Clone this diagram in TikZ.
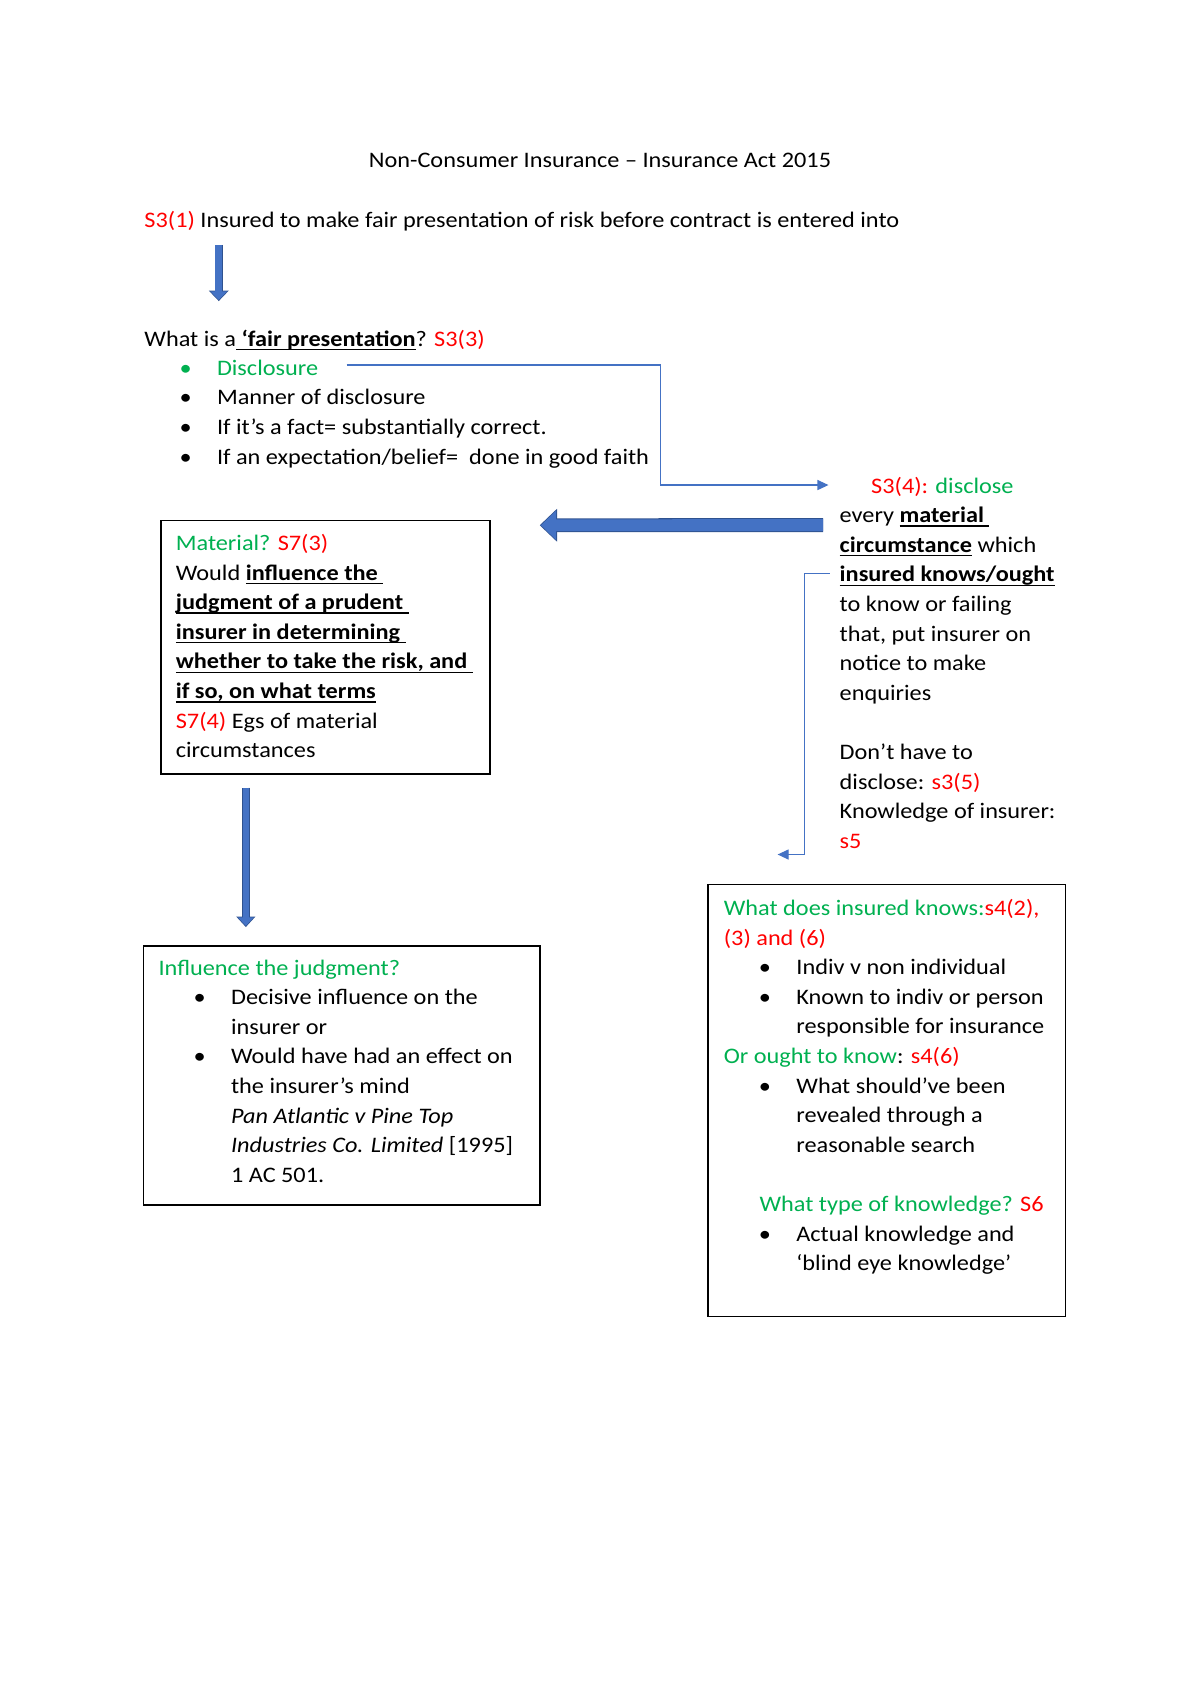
\documentclass[tikz,border=0pt]{standalone}
\usepackage{fontspec}
\setmainfont{Carlito}[FakeStretch=1.095]
\usetikzlibrary{positioning,arrows.meta}
\definecolor{sred}{RGB}{255,0,0}
\definecolor{sgreen}{RGB}{0,176,80}
\definecolor{linkblue}{RGB}{68,114,196}
\definecolor{arrowedge}{RGB}{47,82,143}
\newcommand\rd[1]{\textcolor{sred}{#1}}
\newcommand\gr[1]{\textcolor{sgreen}{#1}}
\newsavebox\ulbox
\newcommand\ulbf[1]{\sbox\ulbox{\textbf{#1}}\rlap{\rule[-2pt]{\wd\ulbox}{0.7pt}}\usebox\ulbox}
\newcommand\bul{\hspace*{36pt}\llap{\makebox[31.2pt]{\textbullet}}}
\newcommand\ind{\hspace*{36pt}}
\begin{document}
\begin{tikzpicture}[
  x=0.5373pt, y=-0.5373pt,
  txt/.style={inner sep=0pt, anchor=north west, align=left, font=\fontsize{11}{14.68}\selectfont},
  box/.style={draw, line width=0.75pt, inner sep=0pt, anchor=north west},
  link/.style={draw=linkblue, line width=0.6pt, -{Triangle[length=5.5pt,width=5pt]}},
  fat/.style n args={6}{draw=linkblue, line width=#1, -{Triangle[length=#2,width=#3]}, shorten >=0.6pt,
    preaction={draw=arrowedge, line width=#4, shorten >=0pt, -{Triangle[length=#5,width=#6]}}}
]
\useasboundingbox (0,0) rectangle (1108,1566);

\node[anchor=base, font=\fontsize{11}{14.68}\selectfont] (title) at (554,155) {Non-Consumer Insurance – Insurance Act 2015};
\node[txt] (s31) at (133,191) {\strut\rd{S3(1)} Insured to make fair presentation of risk before contract is entered into};

% fair presentation
\node[txt] (fairq) at (133,300) {\strut What is a\ulbf{ ‘fair presentation}? \rd{S3(3)}};
\node[txt] (disc) at (133,327) {\strut\gr{\bul Disclosure}};
\node[txt] (fairlist) at (133,354.3) {\strut\bul Manner of disclosure\\
  \bul If it’s a fact= substantially correct.\\
  \bul If an expectation/belief= \ done in good faith};

% duty of disclosure
\node[txt] (s34) at (775,435.85) {\strut\hspace*{15.6pt}\rd{S3(4):} \gr{disclose}\\
  every \ulbf{material }\\
  \ulbf{circumstance} which\\
  \ulbf{insured knows/ought}\\
  to know or failing\\
  that, put insurer on\\
  notice to make\\
  enquiries\\[14.68pt]
  Don’t have to\\
  disclose: \rd{s3(5)}\\
  Knowledge of insurer:\\
  \rd{s5}};

% boxes
\node[box, minimum width=163.3pt, minimum height=125.7pt] (material) at (148,480) {};
\node[txt] (materialtext) at (162,488.85) {\strut\gr{Material?} \rd{S7(3)}\\
  Would \ulbf{influence the }\\
  \ulbf{judgment of a prudent }\\
  \ulbf{insurer in determining }\\
  \ulbf{whether to take the risk, and }\\
  \ulbf{if so, on what terms}\\
  \rd{S7(4)} Egs of material\\
  circumstances};

\node[box, minimum width=196.7pt, minimum height=128.4pt] (influence) at (132,873) {};
\node[txt] (influencetext) at (146,880.85) {\strut\gr{Influence the judgment?}\\
  \bul Decisive influence on the\\
  \ind insurer or\\
  \bul Would have had an effect on\\
  \ind the insurer’s mind\\
  \ind\textit{Pan Atlantic v Pine Top}\\
  \ind\textit{Industries Co. Limited} [1995]\\
  \ind 1 AC 501.};

\node[box, minimum width=177.3pt, minimum height=214.4pt] (knows) at (653,816) {};
\node[txt] (knowstext) at (668,825.85) {\strut\gr{What does insured knows:}\rd{s4(2),}\\
  \rd{(3) and (6)}\\
  \bul Indiv v non individual\\
  \bul Known to indiv or person\\
  \ind responsible for insurance\\
  \gr{Or ought to know}: \rd{s4(6)}\\
  \bul What should’ve been\\
  \ind revealed through a\\
  \ind reasonable search\\[14.68pt]
  \hspace*{17.7pt}\gr{What type of knowledge?} \rd{S6}\\
  \bul Actual knowledge and\\
  \ind ‘blind eye knowledge’};

% Arrows
\draw[fat={3.3pt}{4.2pt}{8pt}{4.2pt}{5.2pt}{9.6pt}] ([shift={(69,35)}]s31.north west) -- ([shift={(69,-22)}]fairq.north west);
\draw[fat={5.9pt}{7.5pt}{14pt}{6.9pt}{8.6pt}{15.8pt}] ([shift={(-15,49)}]s34.north west) -- ([shift={(45,5)}]material.north east);
\draw[fat={2.9pt}{4.2pt}{7.6pt}{3.8pt}{5.2pt}{9.2pt}] ([shift={(79,12)}]material.south west) -- ([shift={(95,-17)}]influence.north west);

% thin connectors
\draw[link] ([shift={(26,-4)}]disc.east) -| ([shift={(-165,12)}]s34.north west) -- ([shift={(-10,12)}]s34.north west);
\draw[link] ([shift={(-9,94)}]s34.north west) -| ([shift={(90,-27)}]knows.north west) -- ([shift={(65,-27)}]knows.north west);
\end{tikzpicture}
\end{document}
